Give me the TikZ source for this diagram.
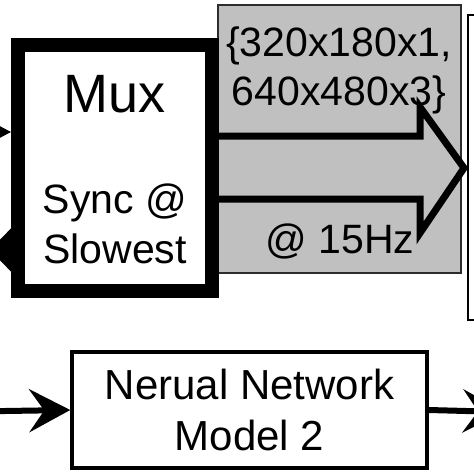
\documentclass[tikz,border=0pt]{standalone}
\usepackage{fontspec}
\setmainfont{Liberation Sans}
\usetikzlibrary{arrows.meta}
\definecolor{boxgray}{RGB}{192,192,192}
\definecolor{edgegray}{RGB}{45,45,45}

\begin{document}
\begin{tikzpicture}[x=1pt, y=-1pt, every node/.style={inner sep=0pt},
    big/.style={font=\fontsize{54pt}{60pt}\selectfont},
    mid/.style={font=\fontsize{41pt}{48pt}\selectfont},
    flow/.style={line width=6pt, -{Stealth[length=41pt, width=43pt, inset=15pt]}}]
    \useasboundingbox (0,0) rectangle (474,474);
    \clip (0,0) rectangle (474,474);

    % Boxes
    \node[draw=edgegray, fill=boxgray, line width=2pt, minimum width=243pt, minimum height=268pt] (stream) at (339.5,139) {};
    \node[draw, line width=2.5pt, minimum width=200pt, minimum height=305pt] (next) at (568,167.5) {};
    \node[draw, fill=white, line width=14pt, minimum width=194pt, minimum height=246pt] (mux) at (115,168) {};
    \node[draw, line width=3.5pt, minimum width=355pt, minimum height=116pt, align=center,
          font=\fontsize{42pt}{51pt}\selectfont] (nn) at (249.5,410) {Nerual Network\\Model 2};

    % Texts
    \node[big, anchor=base] (muxlbl) at (115,112) {Mux};
    \node[mid, anchor=base] (synca) at (115,213) {Sync @};
    \node[mid, anchor=base] (syncb) at (115,263) {Slowest};
    \node[mid, anchor=base] (dima) at (339,56) {\{320x180x1,};
    \node[mid, anchor=base] (dimb) at (339,105) {640x480x3\}};
    \node[mid, anchor=base] (rate) at (340,253) {@ 15Hz};

    % Block arrow
    \draw[line width=7pt] (mux.east |- 0,136) -- (420,136) -- (420,107) -- (464,168)
        -- (420,233) -- (420,199) -- (mux.east |- 0,199);

    % Edges
    \coordinate (srca) at (-60,132);
    \coordinate (srcb) at (-60,250);
    \coordinate (srcc) at (-60,412);
    \coordinate (sink) at (504,412);
    \draw[flow] (srca) -- (srca -| mux.west);
    \draw[line width=6pt, -{Triangle[reversed, length=21pt, width=42pt]}] (srcb) -- (srcb -| mux.west);
    \draw[flow] (srcc) -- (nn.west);
    \draw[flow] (nn.east) -- (sink);
\end{tikzpicture}
\end{document}
